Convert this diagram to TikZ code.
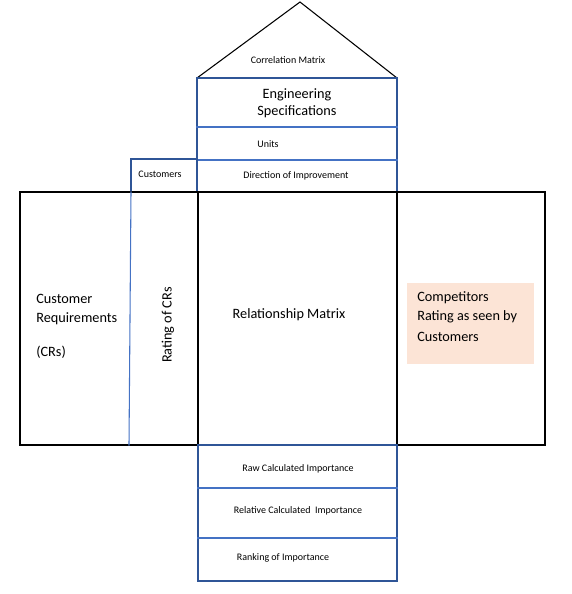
\documentclass[tikz,border=0pt]{standalone}
\usepackage{fontspec}
\setmainfont{Carlito}
\definecolor{boxblue}{HTML}{2F5597}
\definecolor{lineblue}{HTML}{4472C4}
\definecolor{peach}{HTML}{FCE4D6}
\tikzset{
  blueln/.style={draw=boxblue,line width=0.8pt},
  sepln/.style={draw=lineblue,line width=0.8pt},
  blackln/.style={draw=black,line width=0.8pt},
  bigtxt/.style={font=\fontsize{10.7}{13}\selectfont,inner sep=0pt},
  smalltxt/.style={font=\fontsize{7.5}{8}\selectfont,inner sep=0pt}
}

\begin{document}
\begin{tikzpicture}[line cap=rect,line join=miter,x=0.75pt,y=-0.75pt]
			\useasboundingbox (0,0) rectangle (572,594);
			% roof
			\draw [blackln] (197,78)-- (300,2)-- (397,78);
			% top column
			\draw [blueln] (197,78) rectangle (397,192);
			\draw [sepln] (197,127)-- (397,127);
			\draw [sepln] (197,160)-- (397,160);
			\draw [blueln] (131,159) rectangle (197,192);
			% main row
			\draw [blackln] (20,192) rectangle (545,445);
			\draw [blackln] (198,192)-- (198,445);
			\draw [blackln] (397,192)-- (397,445);
			\draw [sepln] (131,192)-- (129,445);
			\fill [peach] (407,283) rectangle (534,364);
			% bottom column
			\draw [blueln] (198,445) rectangle (397,581);
			\draw [sepln] (198,488)-- (397,488);
			\draw [sepln] (198,538)-- (397,538);
			\begin{scope}
				\node [smalltxt] (corr) at (288,60) {Correlation Matrix};
				\node [bigtxt,align=center] (eng) at (297,103) {Engineering\\Specifications};
				\node [smalltxt] (units) at (268,144) {Units};
				\node [smalltxt] (doi) at (296,176) {Direction of Improvement};
				\node [smalltxt] (cust) at (160,174) {Customers};
				\node [bigtxt,anchor=west] (cr1) at (36,299) {Customer};
				\node [bigtxt,anchor=west] (cr2) at (36,319) {Requirements};
				\node [bigtxt,anchor=west] (cr3) at (36,352) {(CRs)};
				\node [bigtxt,rotate=90] (rate) at (168,325) {Rating of CRs};
				\node [bigtxt] (rel) at (289,315) {Relationship Matrix};
				\node [bigtxt,anchor=west] (comp1) at (417,298) {Competitors};
				\node [bigtxt,anchor=west] (comp2) at (417,317) {Rating as seen by};
				\node [bigtxt,anchor=west] (comp3) at (417,337) {Customers};
				\node [smalltxt] (raw) at (298,469) {Raw Calculated Importance};
				\node [smalltxt] (relimp) at (298,511) {Relative Calculated\ \ Importance};
				\node [smalltxt] (rank) at (283,558) {Ranking of Importance};
			\end{scope}
		\end{tikzpicture}
\end{document}
